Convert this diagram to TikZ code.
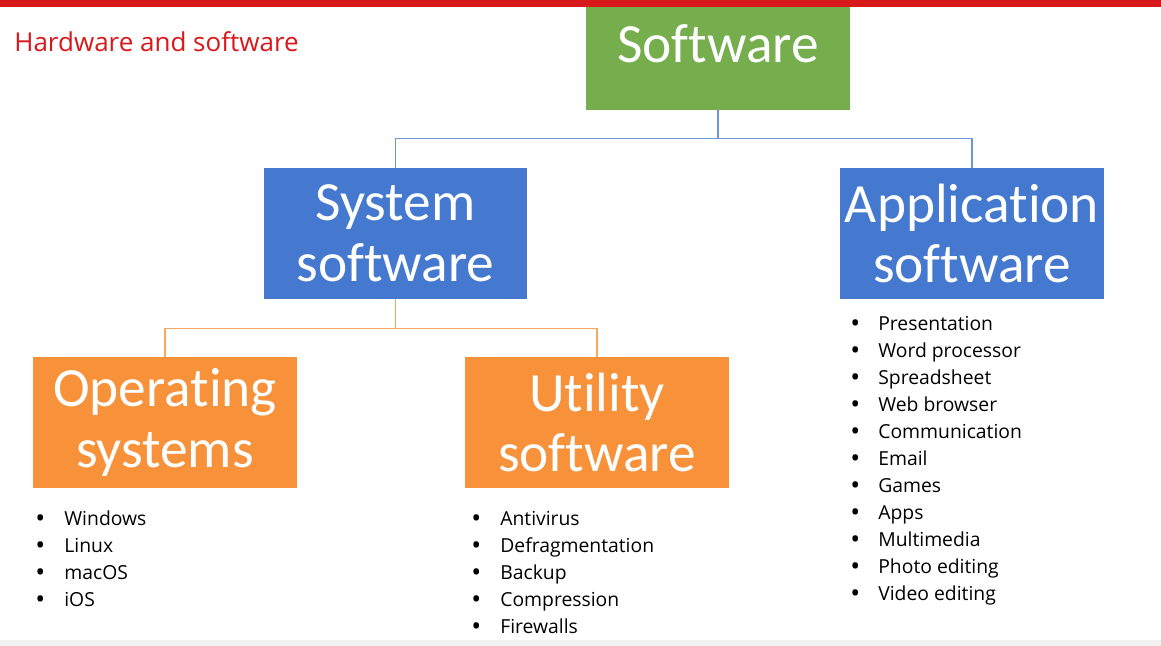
\documentclass[tikz,border=0pt]{standalone}
\usepackage{fontspec}
\setmainfont{Carlito}[Ligatures=NoCommon]
\newfontfamily\listfont{Open Sans}
\usetikzlibrary{positioning}
\definecolor{slidered}{HTML}{D7191C}
\definecolor{swgreen}{HTML}{76AD4D}
\definecolor{swblue}{HTML}{4579CF}
\definecolor{sworange}{HTML}{F8923A}
\definecolor{linkblue}{HTML}{6E97DA}
\definecolor{linkorange}{HTML}{F6A862}
\definecolor{footgray}{HTML}{F2F2F2}

\begin{document}
\begin{tikzpicture}[
    x=0.02cm, y=-0.02cm,
    box/.style={fill=#1, text=white, inner sep=0pt, minimum width=5.28cm, minimum height=2.62cm, align=center, font=\fontsize{31.5}{34.5}\selectfont},
    link/.style={draw=#1, line width=0.9pt},
    item/.style={anchor=west, inner sep=0pt, text height=1.5ex, text depth=.25ex, font=\listfont\fontsize{11}{13}\selectfont},
    dot/.style={item, yshift=-1.2pt, font=\listfont\fontsize{15}{13}\selectfont},
]
\useasboundingbox (0,0) rectangle (1161,646);
\fill[white] (0,0) rectangle (1161,646);
\fill[footgray] (0,640) rectangle (1161,646);

\node[box=swgreen, minimum height=2.66cm] (soft) at (718,43.5) {Software};
\node[box=swblue] (sys) at (395.5,233.5) {System\\software};
\node[box=swblue] (app) at (972,233.5) {Application\\software};
\node[box=sworange] (os) at (165,422.5) {Operating\\systems};
\node[box=sworange] (util) at (597,422.5) {Utility\\software};

\fill[slidered] (0,0) rectangle (1161,7);
\node[anchor=west, inner sep=0pt, text=slidered, font=\listfont\fontsize{14.8}{16}\selectfont] (title) at (14,42) {Hardware and software};

\draw[link=linkblue] (soft.south) -- ++(0,28) -| (sys.north);
\draw[link=linkblue] (soft.south) -- ++(0,28) -| (app.north);
\draw[link=linkorange] (sys.south) -- ++(0,29) -| (os.north);
\draw[link=linkorange] (sys.south) -- ++(0,29) -| (util.north);

\foreach \txt [count=\i] in {Windows, Linux, macOS, iOS} {
    \node[dot] (osb-\i) at (35,493+27*\i) {\textbullet};
    \node[item] (os-\i) at (64,493+27*\i) {\txt};
}
\foreach \txt [count=\i] in {Antivirus, Defragmentation, Backup, Compression, Firewalls} {
    \node[dot] (utilb-\i) at (471,493+27*\i) {\textbullet};
    \node[item] (util-\i) at (500,493+27*\i) {\txt};
}
\foreach \txt [count=\i] in {Presentation, Word processor, Spreadsheet, Web browser, Communication, Email, Games, Apps, Multimedia, Photo editing, Video editing} {
    \node[dot] (appb-\i) at (850,298+27*\i) {\textbullet};
    \node[item] (app-\i) at (878,298+27*\i) {\txt};
}
\end{tikzpicture}
\end{document}
